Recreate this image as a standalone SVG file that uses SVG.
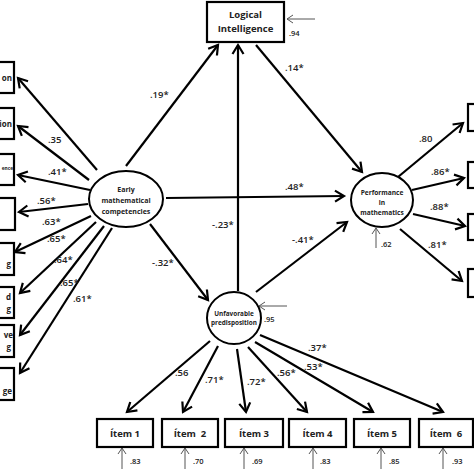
<svg xmlns="http://www.w3.org/2000/svg" width="474" height="474" viewBox="0 0 474 474">
<defs>
<marker id="ah" markerUnits="userSpaceOnUse" markerWidth="14" markerHeight="14" refX="11" refY="7" orient="auto">
<path d="M2,1.5 L11,7 L2,12.5" fill="none" stroke="#000" stroke-width="2.2"/>
</marker>
<marker id="sh" markerUnits="userSpaceOnUse" markerWidth="10" markerHeight="10" refX="8" refY="5" orient="auto">
<path d="M2,1 L8,5 L2,9" fill="none" stroke="#555" stroke-width="1"/>
</marker>
<style>
.box{fill:#fff;stroke:#000;stroke-width:2.2}
.ell{fill:#fff;stroke:#000;stroke-width:2}
.c{fill:none;stroke:#000;stroke-width:2.2;marker-end:url(#ah)}
.e{fill:none;stroke:#555;stroke-width:1;marker-end:url(#sh)}
text{font-family:"Open Sans","Liberation Sans",sans-serif;fill:#222}
.lb{font-size:9.5px;font-weight:600}
.nd{font-size:9.5px;font-weight:700;text-anchor:middle}
.sm{font-size:7px;font-weight:700;text-anchor:middle}
.er{font-size:7.5px;font-weight:600}
.lt{font-size:8px;font-weight:700;text-anchor:end}
</style>
</defs>
<g id="connectors">
<line class="c" x1="126" y1="166" x2="218" y2="45"/>
<line class="c" x1="238" y1="291" x2="238" y2="45"/>
<line class="c" x1="256" y1="45" x2="362" y2="172"/>
<line class="c" x1="166" y1="198" x2="344" y2="196"/>
<line class="c" x1="256" y1="292" x2="347" y2="222"/>
<line class="c" x1="150" y1="224" x2="208" y2="300"/>
<line class="c" x1="97" y1="170" x2="18" y2="78"/>
<line class="c" x1="89" y1="180" x2="18" y2="126"/>
<line class="c" x1="90" y1="190" x2="18" y2="175"/>
<line class="c" x1="88" y1="204" x2="19" y2="212"/>
<line class="c" x1="91" y1="216" x2="15" y2="252"/>
<line class="c" x1="96" y1="222" x2="20" y2="293"/>
<line class="c" x1="104" y1="226" x2="20" y2="335"/>
<line class="c" x1="112" y1="228" x2="20" y2="373"/>
<line class="c" x1="398" y1="177" x2="463" y2="123"/>
<line class="c" x1="412" y1="190" x2="464" y2="178"/>
<line class="c" x1="413" y1="214" x2="465" y2="226"/>
<line class="c" x1="400" y1="229" x2="462" y2="281"/>
<line class="c" x1="210" y1="341" x2="127" y2="412"/>
<line class="c" x1="218" y1="346" x2="183" y2="412"/>
<line class="c" x1="237" y1="349" x2="246" y2="412"/>
<line class="c" x1="248" y1="347" x2="307" y2="412"/>
<line class="c" x1="255" y1="342" x2="373" y2="412"/>
<line class="c" x1="260" y1="335" x2="443" y2="412"/>
<line class="e" x1="315" y1="19" x2="287" y2="19"/>
<line class="e" x1="376" y1="248" x2="376" y2="228"/>
<line class="e" x1="287" y1="306" x2="259" y2="306"/>
<line class="e" x1="122" y1="469" x2="122" y2="448"/>
<line class="e" x1="185" y1="469" x2="185" y2="448"/>
<line class="e" x1="244" y1="469" x2="244" y2="448"/>
<line class="e" x1="313" y1="469" x2="313" y2="448"/>
<line class="e" x1="381" y1="469" x2="381" y2="448"/>
<line class="e" x1="443" y1="469" x2="443" y2="448"/>
<text class="lb" x="150" y="98">.19*</text>
<text class="lb" x="212" y="228">-.23*</text>
<text class="lb" x="285" y="71">.14*</text>
<text class="lb" x="285" y="190">.48*</text>
<text class="lb" x="292" y="243">-.41*</text>
<text class="lb" x="152" y="266">-.32*</text>
<text class="lb" x="48" y="143">.35</text>
<text class="lb" x="48" y="175">.41*</text>
<text class="lb" x="37" y="204">.56*</text>
<text class="lb" x="42" y="225">.63*</text>
<text class="lb" x="47" y="242">.65*</text>
<text class="lb" x="54" y="263">.64*</text>
<text class="lb" x="60" y="286">.65*</text>
<text class="lb" x="73" y="302">.61*</text>
<text class="lb" x="419" y="142">.80</text>
<text class="lb" x="431" y="175">.86*</text>
<text class="lb" x="430" y="210">.88*</text>
<text class="lb" x="428" y="248">.81*</text>
<text class="lb" x="175" y="376">.56</text>
<text class="lb" x="205" y="383">.71*</text>
<text class="lb" x="247" y="385">.72*</text>
<text class="lb" x="277" y="376">.56*</text>
<text class="lb" x="304" y="370">.53*</text>
<text class="lb" x="308" y="351">.37*</text>
<text class="er" x="289" y="36">.94</text>
<text class="er" x="381" y="247">.62</text>
<text class="er" x="264" y="322">.95</text>
<text class="er" x="130" y="464">.83</text>
<text class="er" x="193" y="464">.70</text>
<text class="er" x="252" y="464">.69</text>
<text class="er" x="320" y="464">.83</text>
<text class="er" x="389" y="464">.85</text>
<text class="er" x="452" y="464">.93</text>
</g>
<g id="logical">
<rect class="box" x="207" y="2" width="77" height="40"/>
<text class="nd" x="245.5" y="18">Logical</text>
<text class="nd" x="245.5" y="32">Intelligence</text>
</g>
<g id="early">
<ellipse class="ell" cx="126" cy="199" rx="37" ry="28"/>
<text class="sm" x="126" y="192">Early</text>
<text class="sm" x="126" y="203">mathematical</text>
<text class="sm" x="126" y="214">competencies</text>
</g>
<g id="performance">
<ellipse class="ell" cx="382" cy="200" rx="31" ry="27"/>
<text class="sm" x="382" y="195" style="font-size:6.6px">Performance</text>
<text class="sm" x="382" y="205" style="font-size:6.6px">in</text>
<text class="sm" x="382" y="215" style="font-size:6.6px">mathematics</text>
</g>
<g id="unfavorable">
<ellipse class="ell" cx="234" cy="318" rx="27" ry="26"/>
<text class="sm" x="234" y="316" style="font-size:6.4px">Unfavorable</text>
<text class="sm" x="234" y="325" style="font-size:6.4px">predisposition</text>
</g>
<g id="left1"><rect class="box" x="-10" y="62" width="24" height="31"/><text class="lt" x="12" y="81">on</text></g>
<g id="left2"><rect class="box" x="-10" y="108" width="24" height="31"/><text class="lt" x="12" y="127">ion</text></g>
<g id="left3"><rect class="box" x="-10" y="154" width="24" height="31"/><text class="lt" x="13" y="170" style="font-size:4.8px">ence</text></g>
<g id="left4"><rect class="box" x="-10" y="198" width="25" height="32"/></g>
<g id="left5"><rect class="box" x="-10" y="243" width="24" height="32"/><text class="lt" x="11" y="267">g</text></g>
<g id="left6"><rect class="box" x="-10" y="287" width="24" height="31"/><text class="lt" x="11" y="300">d</text><text class="lt" x="11" y="312">g</text></g>
<g id="left7"><rect class="box" x="-10" y="325" width="24" height="32"/><text class="lt" x="13" y="338">ve</text><text class="lt" x="11" y="350">g</text></g>
<g id="left8"><rect class="box" x="-10" y="368" width="24" height="32"/><text class="lt" x="12" y="394">ge</text></g>
<g id="right1"><rect class="box" x="468" y="104" width="20" height="27"/></g>
<g id="right2"><rect class="box" x="468" y="162" width="20" height="26"/></g>
<g id="right3"><rect class="box" x="468" y="214" width="20" height="26"/></g>
<g id="right4"><rect class="box" x="468" y="269" width="20" height="28"/></g>
<g id="item1"><rect class="box" x="97" y="419" width="56" height="28"/><text class="nd" x="125" y="437">Ítem 1</text></g>
<g id="item2"><rect class="box" x="162" y="419" width="56" height="28"/><text class="nd" x="190" y="437" xml:space="preserve">Ítem  2</text></g>
<g id="item3"><rect class="box" x="225" y="419" width="58" height="28"/><text class="nd" x="254" y="437">Ítem 3</text></g>
<g id="item4"><rect class="box" x="289" y="419" width="57" height="28"/><text class="nd" x="317.5" y="437">Ítem 4</text></g>
<g id="item5"><rect class="box" x="354" y="419" width="56" height="28"/><text class="nd" x="382" y="437">Ítem 5</text></g>
<g id="item6"><rect class="box" x="419" y="419" width="54" height="28"/><text class="nd" x="446" y="437" xml:space="preserve">Ítem  6</text></g>
</svg>
